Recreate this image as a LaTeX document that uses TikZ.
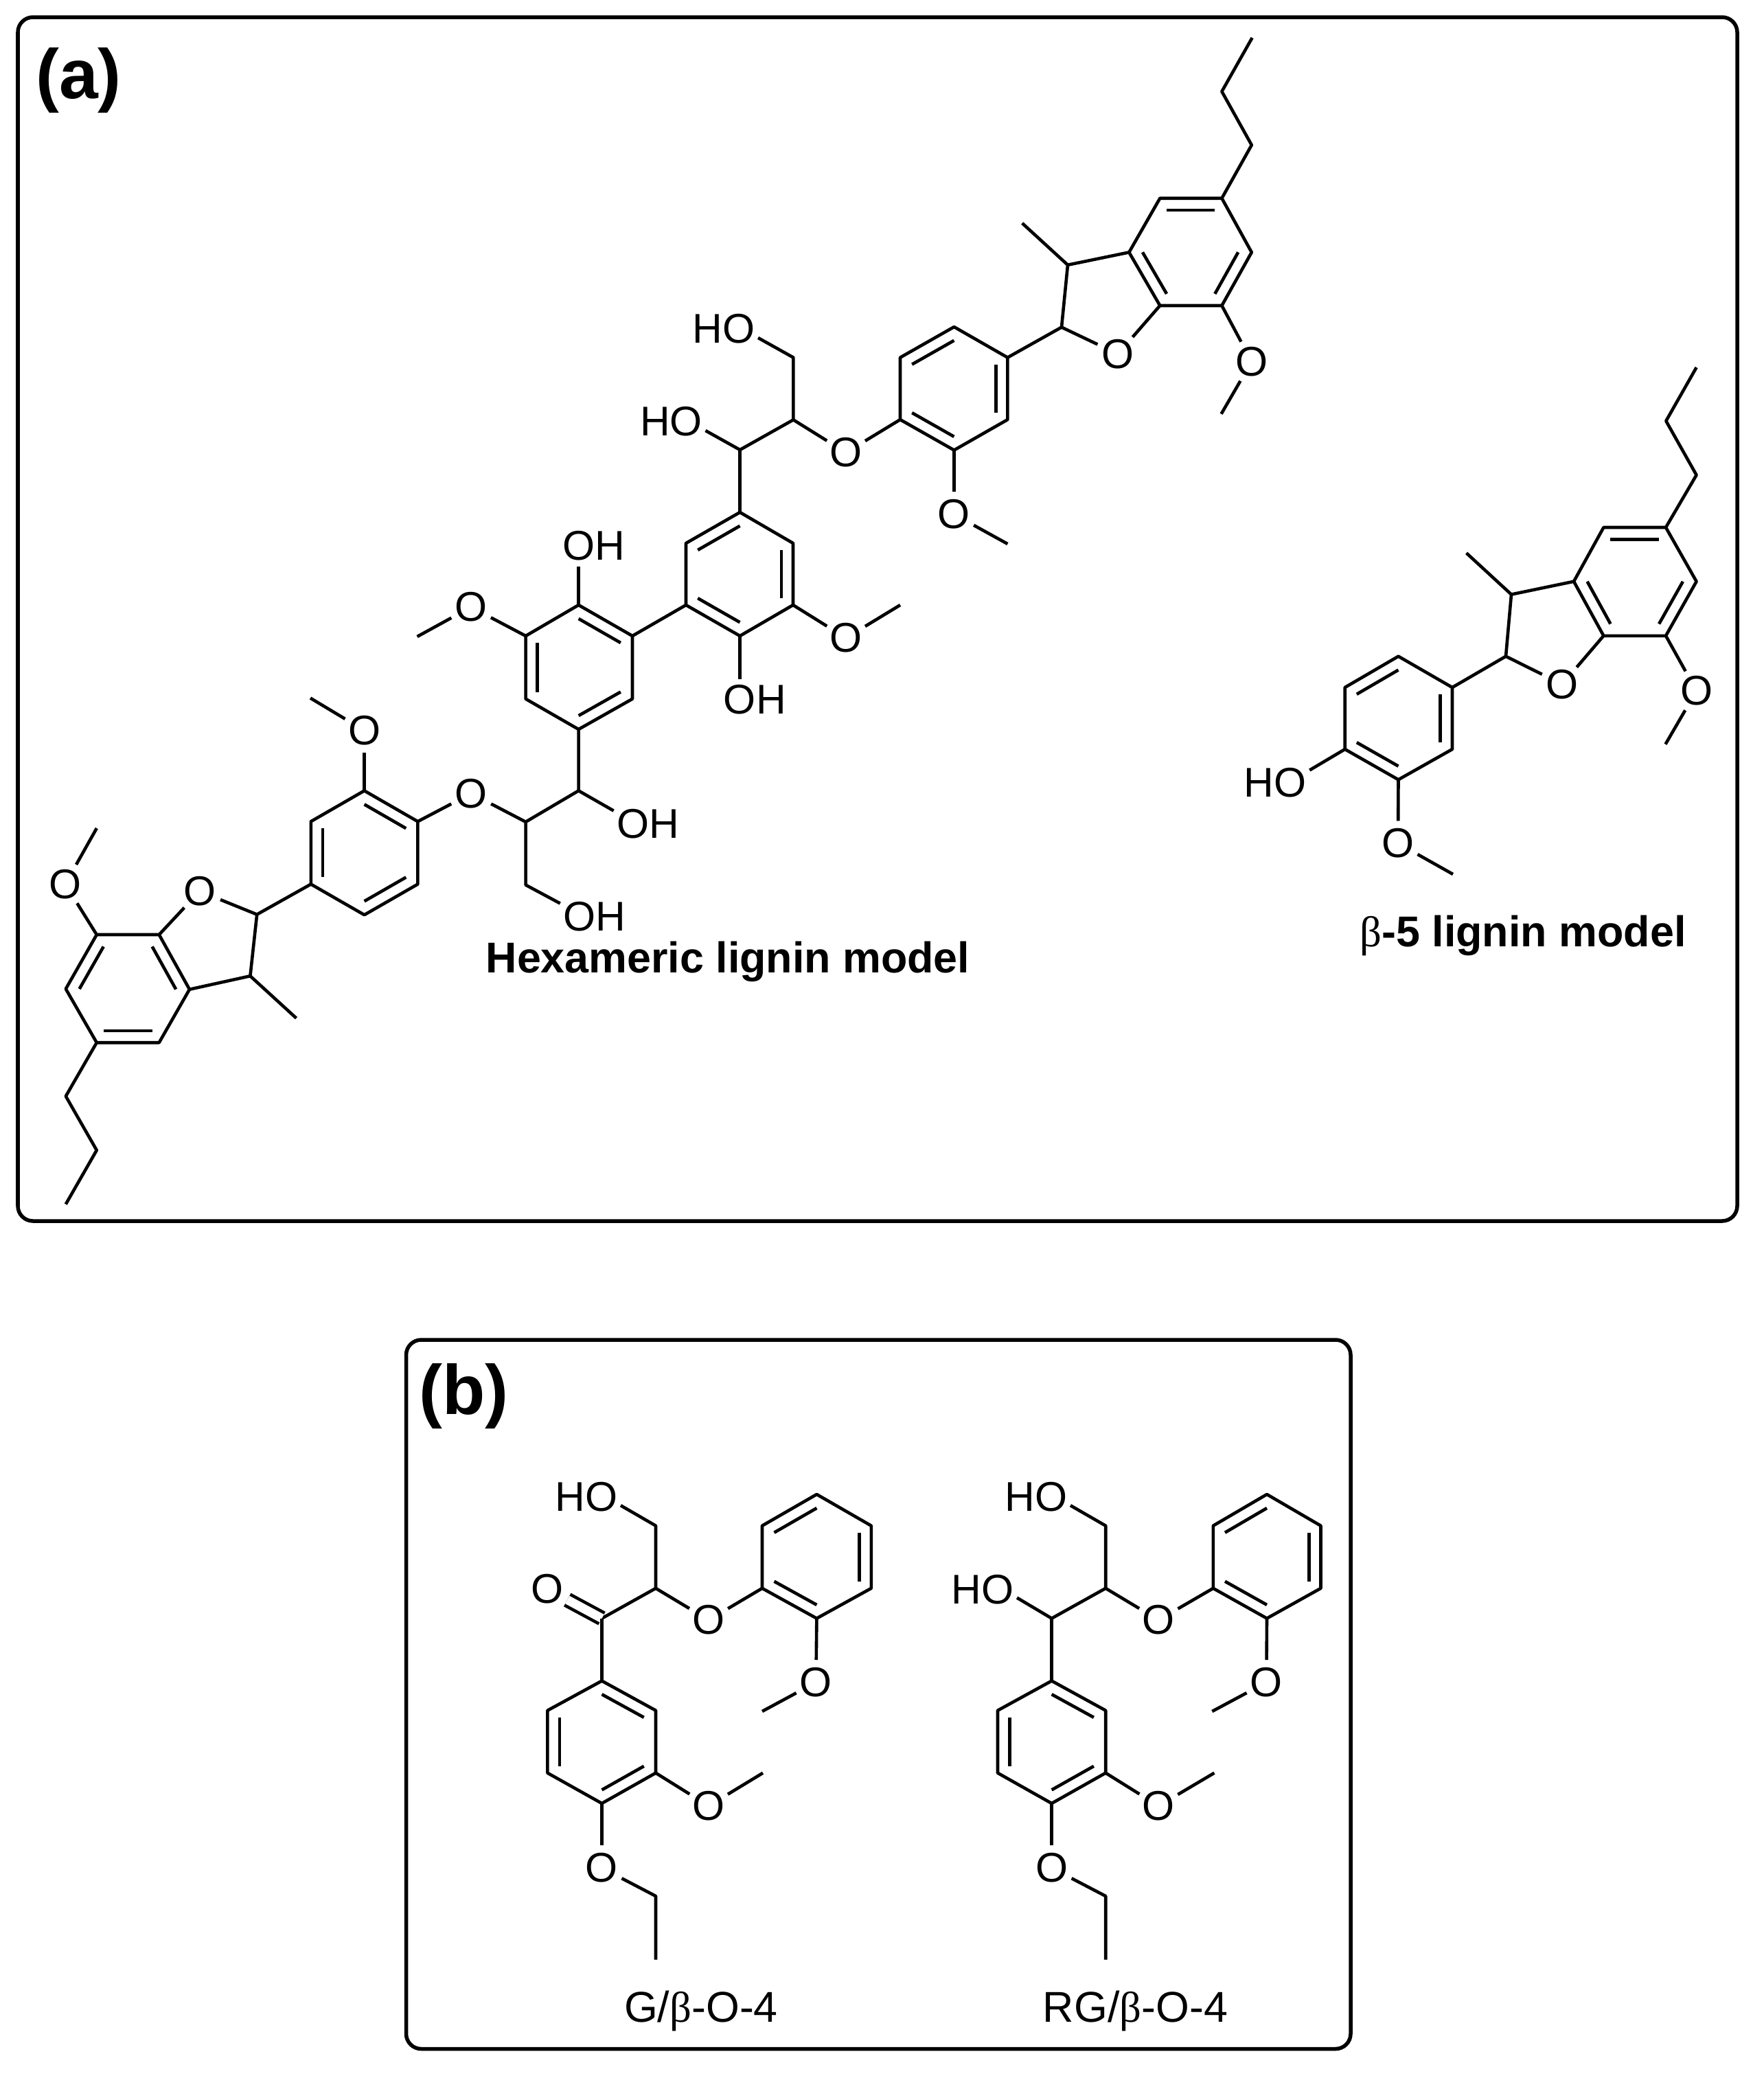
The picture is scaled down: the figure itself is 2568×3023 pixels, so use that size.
\documentclass[tikz,border=0pt]{standalone}
\usepackage{fontspec}
\setmainfont{Liberation Sans}
\newfontfamily\betafont{Liberation Serif}
\usepackage{xcolor}
\usepackage{tikz}
\usetikzlibrary{calc}

\newcommand{\chemfont}{\fontsize{17.2}{20}\selectfont}
\newcommand{\capfont}{\fontsize{17.85}{21}\selectfont}
\newcommand{\tagfont}{\fontsize{29}{34}\selectfont\bfseries}
\newcommand{\inbond}[3]{\draw[bond] ($(#1)!.22!(#3)$) -- ($(#2)!.22!(#3)$);}

\tikzset{
  bond/.style={line width=.046cm, line join=round},
  panel/.style={line width=.055cm, rounded corners=.22cm},
  atom/.style={circle, inner sep=0pt, minimum size=.64cm, font=\chemfont},
  hydroxy/.style={rectangle, inner xsep=.04cm, inner ysep=.08cm, font=\chemfont},
  caption/.style={anchor=base, inner sep=0pt, font=\capfont},
  tag/.style={inner sep=0pt, font=\tagfont}
}

\begin{document}
\begin{tikzpicture}[x=.01cm, y=-.01cm]
        \useasboundingbox (0,0) rectangle (2568,3023);

        % Draw the panels
        \draw[panel] (26,25) rectangle (2530,1778);
        \draw[panel] (591.5,1951) rectangle (1967,2983.5);
        \node[tag] (taga) at (114.6,116.8) {(a)};
        \node[tag] (tagb) at (675.6,2033) {(b)};

        % Define the atoms, hexamer from top right to bottom left
        \coordinate (ta) at (1823.6,55);
        \coordinate (tb) at (1779.4,133.2);
        \coordinate (tc) at (1822.8,211.2);
        \coordinate (p1) at (1779.4,288.7);
        \coordinate (p2) at (1822.8,367.4);
        \coordinate (p3) at (1779.4,445);
        \coordinate (p4) at (1689.3,445);
        \coordinate (p5) at (1644.3,367.4);
        \coordinate (p6) at (1689.3,288.7);
        \coordinate (pc) at (1733.6,367);
        \coordinate (q2) at (1546,476.5);
        \coordinate (q3) at (1555,385.8);
        \coordinate (qm) at (1488.7,325);
        \coordinate (pm) at (1778.6,602.7);
        \node[atom] (qo) at (1628,515.5) {O};
        \node[atom] (po) at (1822.8,526.4) {O};

        \coordinate (g1) at (1389.5,476);
        \coordinate (g2) at (1467.4,520.6);
        \coordinate (g3) at (1467.4,611);
        \coordinate (g4) at (1389.5,655.5);
        \coordinate (g5) at (1311,611);
        \coordinate (g6) at (1311,520.6);
        \coordinate (gc) at (1389.2,566);
        \coordinate (gm) at (1467.4,792);
        \node[atom] (go) at (1389.5,749) {O};
        \node[atom] (eo) at (1232,659) {O};

        \coordinate (f1) at (1155.4,611.3);
        \coordinate (f2) at (1155.4,520.6);
        \coordinate (f3) at (1077.6,655);
        \node[hydroxy] (ho1) at (1054,478.5) {HO};
        \node[hydroxy] (ho2) at (977.4,613.6) {HO};

        \coordinate (r1) at (1077.6,746);
        \coordinate (r2) at (1155,791);
        \coordinate (r3) at (1155,881);
        \coordinate (r4) at (1077.6,926);
        \coordinate (r5) at (999,881);
        \coordinate (r6) at (999,791);
        \coordinate (rc) at (1077.3,836);
        \coordinate (rm) at (1311,881);
        \node[atom] (ro) at (1232,929) {O};
        \node[hydroxy] (oh1) at (1099.3,1019) {OH};

        \coordinate (s1) at (842.6,881);
        \coordinate (s2) at (921,926);
        \coordinate (s3) at (921,1017.7);
        \coordinate (s4) at (842.6,1062);
        \coordinate (s5) at (765.6,1017.7);
        \coordinate (s6) at (765.6,926);
        \coordinate (sc) at (843,971.5);
        \coordinate (sm) at (607.6,927);
        \node[atom] (so) at (686,884) {O};
        \node[hydroxy] (oh2) at (865,794.5) {OH};

        \coordinate (h1) at (842.6,1151.4);
        \coordinate (h2) at (765.6,1196.8);
        \coordinate (h3) at (765.6,1288.6);
        \node[hydroxy] (oh3) at (943.7,1199.8) {OH};
        \node[hydroxy] (oh4) at (865.8,1334.7) {OH};
        \node[atom] (eo2) at (686.2,1155.4) {O};

        \coordinate (v1) at (530.6,1151.4);
        \coordinate (v2) at (608.4,1196.2);
        \coordinate (v3) at (608.4,1287.5);
        \coordinate (v4) at (530.6,1332.2);
        \coordinate (v5) at (452.8,1287.5);
        \coordinate (v6) at (452.8,1196.2);
        \coordinate (vc) at (530.6,1241.8);
        \coordinate (vm) at (452,1016.5);
        \node[atom] (vo) at (530.6,1063.6) {O};

        \coordinate (u2) at (374.2,1331.6);
        \coordinate (u3) at (364.4,1421.2);
        \coordinate (um) at (431.5,1482.6);
        \node[atom] (uo) at (290.7,1297.8) {O};
        \coordinate (w1) at (231.7,1361);
        \coordinate (w2) at (140.8,1361);
        \coordinate (w3) at (95.8,1440);
        \coordinate (w4) at (140.8,1518.2);
        \coordinate (w5) at (231.7,1518.2);
        \coordinate (w6) at (276,1440.7);
        \coordinate (wc) at (186,1440);
        \coordinate (wm) at (140.8,1206);
        \node[atom] (wo) at (95,1287.5) {O};
        \coordinate (x1) at (95.8,1596.3);
        \coordinate (x2) at (140.8,1674.9);
        \coordinate (x3) at (95.8,1753.5);

        % Draw the hexamer bonds
        \draw[bond] (ta) -- (tb) -- (tc) -- (p1);
        \draw[bond] (p1) -- (p2) -- (p3) -- (p4) -- (p5) -- (p6) -- cycle;
        \inbond{p6}{p1}{pc}
        \inbond{p2}{p3}{pc}
        \inbond{p4}{p5}{pc}
        \draw[bond] (p3) -- (po);
        \draw[bond] (po) -- (pm);
        \draw[bond] (p4) -- (qo);
        \draw[bond] (qo) -- (q2);
        \draw[bond] (q2) -- (q3) -- (p5);
        \draw[bond] (q3) -- (qm);
        \draw[bond] (q2) -- (g2);
        \draw[bond] (g1) -- (g2) -- (g3) -- (g4) -- (g5) -- (g6) -- cycle;
        \inbond{g1}{g6}{gc}
        \inbond{g2}{g3}{gc}
        \inbond{g4}{g5}{gc}
        \draw[bond] (g4) -- (go);
        \draw[bond] (go) -- (gm);
        \draw[bond] (g5) -- (eo);
        \draw[bond] (eo) -- (f1);
        \draw[bond] (f1) -- (f2) -- (ho1.-15);
        \draw[bond] (f1) -- (f3) -- (ho2.-15);
        \draw[bond] (f3) -- (r1);
        \draw[bond] (r1) -- (r2) -- (r3) -- (r4) -- (r5) -- (r6) -- cycle;
        \inbond{r1}{r6}{rc}
        \inbond{r2}{r3}{rc}
        \inbond{r4}{r5}{rc}
        \draw[bond] (r3) -- (ro);
        \draw[bond] (ro) -- (rm);
        \draw[bond] (r4) -- (r4 |- oh1.north);
        \draw[bond] (r5) -- (s2);
        \draw[bond] (s1) -- (s2) -- (s3) -- (s4) -- (s5) -- (s6) -- cycle;
        \inbond{s1}{s2}{sc}
        \inbond{s5}{s6}{sc}
        \inbond{s3}{s4}{sc}
        \draw[bond] (s6) -- (so);
        \draw[bond] (so) -- (sm);
        \draw[bond] (s1) -- (s1 |- oh2.south);
        \draw[bond] (s4) -- (h1) -- (h2) -- (h3) -- (oh4.159);
        \draw[bond] (h1) -- (oh3.159);
        \draw[bond] (h2) -- (eo2);
        \draw[bond] (eo2) -- (v2);
        \draw[bond] (v1) -- (v2) -- (v3) -- (v4) -- (v5) -- (v6) -- cycle;
        \inbond{v1}{v2}{vc}
        \inbond{v5}{v6}{vc}
        \inbond{v3}{v4}{vc}
        \draw[bond] (v1) -- (vo);
        \draw[bond] (vo) -- (vm);
        \draw[bond] (v5) -- (u2);
        \draw[bond] (u2) -- (uo);
        \draw[bond] (uo) -- (w1);
        \draw[bond] (u2) -- (u3) -- (w6);
        \draw[bond] (u3) -- (um);
        \draw[bond] (w1) -- (w2) -- (w3) -- (w4) -- (w5) -- (w6) -- cycle;
        \inbond{w1}{w6}{wc}
        \inbond{w2}{w3}{wc}
        \inbond{w4}{w5}{wc}
        \draw[bond] (w2) -- (wo);
        \draw[bond] (wo) -- (wm);
        \draw[bond] (w4) -- (x1) -- (x2) -- (x3);

        % Define the atoms, beta-5 model
        \coordinate (ma) at (2470.6,535);
        \coordinate (mb) at (2426.3,613);
        \coordinate (mc) at (2470.6,691.7);
        \coordinate (n1) at (2426,768);
        \coordinate (n2) at (2470.6,846.7);
        \coordinate (n3) at (2426,925.8);
        \coordinate (n4) at (2335.4,925.8);
        \coordinate (n5) at (2292,846.7);
        \coordinate (n6) at (2335.4,768);
        \coordinate (nc) at (2381,847);
        \coordinate (k2) at (2193,955.7);
        \coordinate (k3) at (2201,865.6);
        \coordinate (km) at (2135.6,805.3);
        \coordinate (nm) at (2425.5,1083.7);
        \node[atom] (ko) at (2275,996.4) {O};
        \node[atom] (no) at (2470.6,1006) {O};
        \coordinate (l1) at (2036.5,955.7);
        \coordinate (l2) at (2115,1001);
        \coordinate (l3) at (2115,1091);
        \coordinate (l4) at (2036.5,1135.3);
        \coordinate (l5) at (1958.7,1091);
        \coordinate (l6) at (1958.7,1001);
        \coordinate (lc) at (2036.5,1046);
        \coordinate (lm) at (2116,1273);
        \node[atom] (lo) at (2036,1228) {O};
        \node[hydroxy] (ho5) at (1857.2,1139.7) {HO};

        % Draw the beta-5 bonds
        \draw[bond] (ma) -- (mb) -- (mc) -- (n1);
        \draw[bond] (n1) -- (n2) -- (n3) -- (n4) -- (n5) -- (n6) -- cycle;
        \inbond{n6}{n1}{nc}
        \inbond{n2}{n3}{nc}
        \inbond{n4}{n5}{nc}
        \draw[bond] (n3) -- (no);
        \draw[bond] (no) -- (nm);
        \draw[bond] (n4) -- (ko);
        \draw[bond] (ko) -- (k2);
        \draw[bond] (k2) -- (k3) -- (n5);
        \draw[bond] (k3) -- (km);
        \draw[bond] (k2) -- (l2);
        \draw[bond] (l1) -- (l2) -- (l3) -- (l4) -- (l5) -- (l6) -- cycle;
        \inbond{l1}{l6}{lc}
        \inbond{l2}{l3}{lc}
        \inbond{l4}{l5}{lc}
        \draw[bond] (l4) -- (lo);
        \draw[bond] (lo) -- (lm);
        \draw[bond] (l5) -- (ho5.20);

        % Captions of panel (a)
        \node[caption] (cap1) at (1060,1416.6) {\bfseries Hexameric lignin model};
        \node[caption] (cap2) at (2218,1378) {{\betafont β}\bfseries -5 lignin model};

        % Define the atoms, G model
        \coordinate (b1) at (955,2221.7);
        \coordinate (b2) at (955,2312.8);
        \coordinate (b3) at (876.5,2356.6);
        \node[hydroxy] (ho6) at (853.9,2179.7) {HO};
        \node[atom] (bk) at (797.4,2314) {O};
        \node[atom] (be) at (1032,2359) {O};
        \coordinate (c1) at (1110,2312.8);
        \coordinate (c2) at (1110,2221.7);
        \coordinate (c3) at (1189.4,2176);
        \coordinate (c4) at (1268.8,2221.7);
        \coordinate (c5) at (1268.8,2312.8);
        \coordinate (c6) at (1189.4,2356.6);
        \coordinate (cc) at (1189.4,2267);
        \coordinate (cm) at (1110,2492);
        \node[atom] (co) at (1188.4,2449.7) {O};
        \coordinate (d1) at (876.5,2447.6);
        \coordinate (d2) at (955,2490.7);
        \coordinate (d3) at (955,2581.7);
        \coordinate (d4) at (876.5,2626);
        \coordinate (d5) at (797.4,2581.7);
        \coordinate (d6) at (797.4,2490.7);
        \coordinate (dc) at (876.5,2536.7);
        \coordinate (dm) at (1111,2581.7);
        \node[atom] (do) at (1032,2629.7) {O};
        \node[atom] (de) at (876.5,2720) {O};
        \coordinate (e1) at (955,2761);
        \coordinate (e2) at (955,2853.5);

        % Draw the G model bonds
        \draw[bond] (ho6.-14) -- (b1) -- (b2) -- (b3);
        \draw[bond, double, double distance=.13cm] (b3) -- (bk);
        \draw[bond] (b2) -- (be);
        \draw[bond] (be) -- (c1);
        \draw[bond] (c1) -- (c2) -- (c3) -- (c4) -- (c5) -- (c6) -- cycle;
        \inbond{c2}{c3}{cc}
        \inbond{c4}{c5}{cc}
        \inbond{c6}{c1}{cc}
        \draw[bond] (c6) -- (co);
        \draw[bond] (co) -- (cm);
        \draw[bond] (b3) -- (d1);
        \draw[bond] (d1) -- (d2) -- (d3) -- (d4) -- (d5) -- (d6) -- cycle;
        \inbond{d1}{d2}{dc}
        \inbond{d5}{d6}{dc}
        \inbond{d3}{d4}{dc}
        \draw[bond] (d3) -- (do);
        \draw[bond] (do) -- (dm);
        \draw[bond] (d4) -- (de);
        \draw[bond] (de) -- (e1) -- (e2);
        \node[caption] (cap3) at (1021,2944) {G/{\betafont β}-O-4};

        % Define the atoms, RG model
        \coordinate (f4) at (1610.2,2221.7);
        \coordinate (f5) at (1610.2,2312.8);
        \coordinate (f6) at (1531.6,2356.6);
        \node[hydroxy] (ho7) at (1508.9,2179.7) {HO};
        \node[hydroxy] (ho8) at (1431,2315) {HO};
        \node[atom] (fe) at (1687.2,2359) {O};
        \coordinate (i1) at (1766.8,2312.8);
        \coordinate (i2) at (1766.8,2221.7);
        \coordinate (i3) at (1845,2176);
        \coordinate (i4) at (1923.5,2221.7);
        \coordinate (i5) at (1923.5,2312.8);
        \coordinate (i6) at (1845,2356.6);
        \coordinate (ic) at (1845,2267);
        \coordinate (im) at (1765.3,2492);
        \node[atom] (io) at (1844.4,2449.7) {O};
        \coordinate (j1) at (1531.6,2447.6);
        \coordinate (j2) at (1610.2,2490.7);
        \coordinate (j3) at (1610.2,2581.7);
        \coordinate (j4) at (1531.6,2626);
        \coordinate (j5) at (1453,2581.7);
        \coordinate (j6) at (1453,2490.7);
        \coordinate (jc) at (1531.6,2536.7);
        \coordinate (jm) at (1768.4,2581.7);
        \node[atom] (jo) at (1687.2,2629.7) {O};
        \node[atom] (je) at (1531.6,2720) {O};
        \coordinate (y1) at (1610.2,2761);
        \coordinate (y2) at (1610.2,2853.5);

        % Draw the RG model bonds
        \draw[bond] (ho7.-14) -- (f4) -- (f5) -- (f6) -- (ho8.-13);
        \draw[bond] (f5) -- (fe);
        \draw[bond] (fe) -- (i1);
        \draw[bond] (i1) -- (i2) -- (i3) -- (i4) -- (i5) -- (i6) -- cycle;
        \inbond{i2}{i3}{ic}
        \inbond{i4}{i5}{ic}
        \inbond{i6}{i1}{ic}
        \draw[bond] (i6) -- (io);
        \draw[bond] (io) -- (im);
        \draw[bond] (f6) -- (j1);
        \draw[bond] (j1) -- (j2) -- (j3) -- (j4) -- (j5) -- (j6) -- cycle;
        \inbond{j1}{j2}{jc}
        \inbond{j5}{j6}{jc}
        \inbond{j3}{j4}{jc}
        \draw[bond] (j3) -- (jo);
        \draw[bond] (jo) -- (jm);
        \draw[bond] (j4) -- (je);
        \draw[bond] (je) -- (y1) -- (y2);
        \node[caption] (cap4) at (1653.5,2944) {RG/{\betafont β}-O-4};
    \end{tikzpicture}
\end{document}
